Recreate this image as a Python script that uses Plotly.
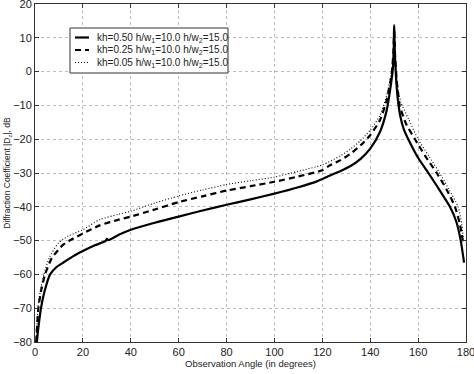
import plotly.graph_objects as go

# kh = 0.50 (solid)
angle_050 = [0.8, 1.2, 1.8, 2.5, 4, 6.3, 9, 11.8, 16, 20, 25, 29.5, 30, 30.6, 35, 40, 50, 60,
             70, 80, 90, 100, 110, 118, 123, 127.6, 131.6, 136, 140, 144.1, 146.9, 148.3,
             149.4, 149.8, 150, 150.3, 150.8, 151.5, 152.5, 154, 155.9, 160, 164.3, 168,
             173.3, 176, 177.8, 179.2]
coef_050 = [-80, -77, -73.5, -70, -65, -60, -57.8, -56.5, -54.6, -53.1, -51.4, -50.1, -49.5,
            -49.9, -48.3, -46.8, -44.7, -42.9, -41.1, -39.4, -37.8, -36.1, -34.2, -32.4,
            -30.8, -29.4, -28.0, -25.8, -22.8, -17.8, -11.4, -5.5, 0.5, 6, 13.8, 5, -2, -8,
            -13, -17, -20, -25.5, -30, -34, -40, -44.5, -50, -56.5]

# kh = 0.25 (dashed)
angle_025 = [0.5, 0.9, 1.4, 2.5, 4.2, 7, 11.8, 16, 20, 27, 35, 40, 50, 60, 70, 80, 90, 100,
             110, 120, 123, 127.6, 131.6, 136, 140, 144.1, 146.9, 149, 149.7, 150, 150.3,
             151, 152.3, 155, 158.7, 163, 167.8, 172, 175.4, 177.4, 178.2, 178.8]
coef_025 = [-80, -75, -70, -65, -60, -55.2, -51.2, -49.4, -47.9, -45.5, -43.8, -42.9, -40.8,
            -38.6, -36.9, -35.2, -33.9, -32.6, -31, -29.2, -27.8, -26.2, -24.4, -21.8,
            -18.8, -14.3, -8.4, -0.5, 6, 13, 6, -2, -10, -15.5, -20, -25, -30, -35, -40,
            -45, -48, -50.5]

# kh = 0.05 (dotted)
angle_005 = [0.4, 0.8, 1.2, 2.2, 3.7, 6, 9.7, 14, 20, 27, 35, 40, 50, 60, 70, 80, 90, 100,
             110, 120, 127.6, 131.6, 136, 140, 144.1, 146.9, 149, 149.7, 150, 150.4, 151.2,
             152.8, 156, 160, 164.5, 169, 173, 176.7, 178.2, 178.8]
coef_005 = [-80, -75, -70, -65, -60, -55, -50.8, -48.6, -46.8, -43.8, -42.2, -41.3, -38.9,
            -36.8, -35.0, -33.4, -32.3, -31.2, -29.5, -27.6, -24.9, -23, -20.4, -17.3,
            -12.9, -6.9, 0.5, 6, 12.5, 5, -3, -9, -14, -20, -25, -30, -35, -40, -45, -49]

legend_labels = [
    "kh=0.50 h/w<sub>1</sub>=10.0 h/w<sub>2</sub>=15.0",
    "kh=0.25 h/w<sub>1</sub>=10.0 h/w<sub>2</sub>=15.0",
    "kh=0.05 h/w<sub>1</sub>=10.0 h/w<sub>2</sub>=15.0",
]
x_ticks = [0, 20, 40, 60, 80, 100, 120, 140, 160, 180]
y_ticks = [-80, -70, -60, -50, -40, -30, -20, -10, 0, 10, 20]

styles = [("solid", 2.2), ("6px,4px", 2.2), ("1px,2px", 1.1)]
series = [(angle_050, coef_050), (angle_025, coef_025), (angle_005, coef_005)]

fig = go.Figure()
for (xs, ys), (dash, w), name in zip(series, styles, legend_labels):
    fig.add_trace(go.Scatter(x=xs, y=ys, mode="lines", name=name,
                             line=dict(color="black", width=w, dash=dash, shape="spline",
                                       smoothing=0.6),
                             showlegend=False))

FONT = "Liberation Sans, Arial, sans-serif"
fig.update_layout(
    width=474, height=374,
    margin=dict(l=35, r=8, t=4, b=32, autoexpand=False),
    paper_bgcolor="white", plot_bgcolor="white",
    font=dict(family=FONT, size=11, color="#222"),
    xaxis=dict(range=[0, 180], tickvals=x_ticks, showgrid=True, gridcolor="#bbb",
               griddash="dot", gridwidth=1, zeroline=False, showline=True,
               linecolor="#333", linewidth=1, mirror="allticks", ticks="inside",
               ticklen=4, tickcolor="#333", automargin=False, ticklabeloverflow="allow",
               title=dict(text="Observation Angle (in degrees)", standoff=1,
                          font=dict(size=9.5))),
    yaxis=dict(range=[-80, 20], tickvals=y_ticks, showgrid=True, gridcolor="#bbb",
               griddash="dot", gridwidth=1, zeroline=False, showline=True,
               linecolor="#333", linewidth=1, mirror="allticks", ticks="inside",
               ticklen=4, tickcolor="#333", automargin=False, ticklabeloverflow="allow",
               title=dict(text="Diffraction Coefficient |D<sub>z</sub>|, dB", standoff=0,
                          font=dict(size=8.5))),
)

# Custom legend box (paper coordinates)
plot_l, plot_r, plot_t, plot_b = 35, 466, 4, 342
def px(xp):
    return (xp - plot_l) / (plot_r - plot_l)
def py(yp):
    return (plot_b - yp) / (plot_b - plot_t)

fig.add_shape(type="rect", xref="paper", yref="paper",
              x0=px(70), x1=px(228), y0=py(73), y1=py(28),
              line=dict(color="#333", width=1), fillcolor="white", layer="above")
rows = [37.5, 50, 62.5]
for yp, (dash, w), label in zip(rows, styles, legend_labels):
    fig.add_shape(type="line", xref="paper", yref="paper",
                  x0=px(75), x1=px(89), y0=py(yp), y1=py(yp),
                  line=dict(color="black", width=w, dash=dash), layer="above")
    fig.add_annotation(xref="paper", yref="paper", x=px(95), y=py(yp), text=label,
                       showarrow=False, xanchor="left", yanchor="middle",
                       font=dict(size=10, color="#222", family=FONT))

fig.write_html("out.html", config={"displayModeBar": False},
               post_script="document.body.style.margin='0';")
